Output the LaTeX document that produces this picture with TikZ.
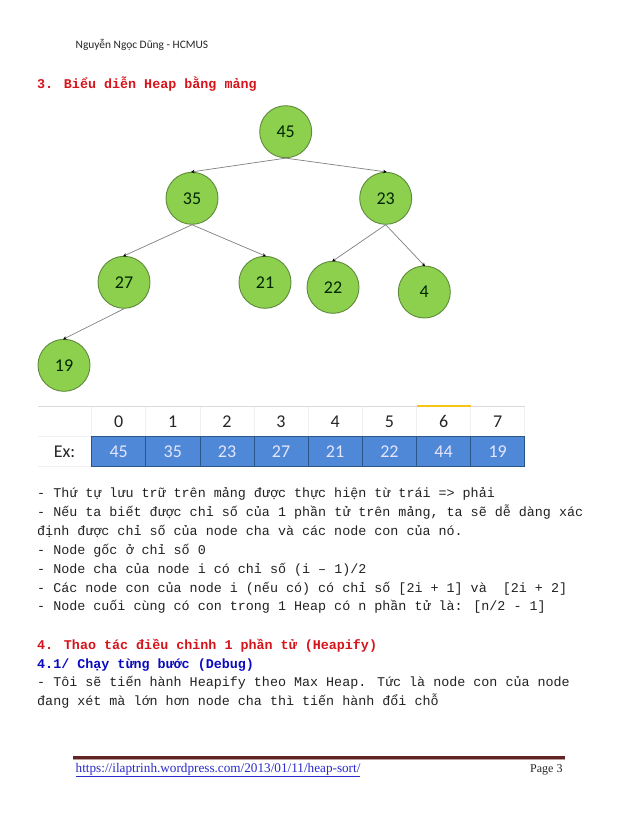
\documentclass[tikz,border=0pt]{standalone}
\usepackage{fontspec}
\setmainfont{Carlito}
\newfontfamily\codefont{Liberation Mono}
\newfontfamily\footfont{Liberation Serif}
\usetikzlibrary{arrows.meta}
\definecolor{heapgreen}{HTML}{8DD04E}
\definecolor{heapedge}{HTML}{5E8A3C}
\definecolor{cellblue}{HTML}{4F88D6}
\definecolor{celledge}{HTML}{2A5788}
\definecolor{gridgray}{HTML}{D9D9DE}
\definecolor{gridfaint}{HTML}{F0F0F2}
\definecolor{hiorange}{HTML}{F5C518}
\definecolor{headred}{HTML}{D5151B}
\definecolor{subblue}{HTML}{0A0AC0}
\definecolor{bodygray}{HTML}{222222}
\definecolor{rulered}{HTML}{622423}
\definecolor{linkblue}{HTML}{2A2ACC}
\tikzset{
  heapnode/.style={circle,draw=heapedge,fill=heapgreen,line width=0.9pt,minimum size=52pt,inner sep=0pt,font=\fontsize{18}{20}\selectfont,text=black!85!green},
  heaplink/.style={draw=black!50,line width=0.7pt,-{Stealth[length=3.5pt,width=3.5pt,color=black]},shorten >=-1pt},
  idxcell/.style={minimum width=54.2pt,minimum height=30.5pt,inner sep=0pt,font=\fontsize{18}{20}\selectfont,text=black!85},
  valcell/.style={draw=celledge,fill=cellblue,line width=0.8pt,minimum width=54.2pt,minimum height=30pt,inner sep=0pt,font=\fontsize{18}{20}\selectfont,text=white!90!blue},
  codeline/.style={anchor=base west,inner sep=0pt,font=\codefont\fontsize{13.38}{16}\selectfont,text=bodygray},
  headred/.style={codeline,font=\codefont\bfseries\fontsize{13.38}{16}\selectfont,text=headred},
  headblue/.style={codeline,font=\codefont\bfseries\fontsize{13.38}{16}\selectfont,text=subblue},
  footer/.style={anchor=base west,inner sep=0pt,font=\footfont\fontsize{12}{14}\selectfont},
  gridline/.style={draw=gridgray,line width=0.9pt},
  gridthin/.style={draw=gridfaint,line width=0.7pt}
}
\begin{document}
\begin{tikzpicture}[x=1pt,y=-1pt]
\useasboundingbox[fill=white] (0,0) rectangle (638,826);
\node[anchor=base west,inner sep=0pt,font=\fontsize{11.4}{14}\selectfont,text=black!85] (hdr) at (75.5,49) {Nguyễn Ngọc Dũng - HCMUS};
\node[headred] (h3) at (37,89) {3. Biểu diễn Heap bằng mảng};
% tree
\node[heapnode] (n45) at (285.7,131.7) {45};
\node[heapnode] (n35) at (192,198.3) {35};
\node[heapnode] (n23) at (385.7,198.3) {23};
\node[heapnode] (n27) at (124,282.3) {27};
\node[heapnode] (n21) at (265,282.3) {21};
\node[heapnode] (n22) at (333,287.3) {22};
\node[heapnode] (n4) at (424.3,292) {4};
\node[heapnode] (n19) at (64,365.3) {19};
\draw[heaplink] (n45.south) -- (n35.north);
\draw[heaplink] (n45.south) -- (n23.north);
\draw[heaplink] (n35.south) -- (n27.north);
\draw[heaplink] (n35.south) -- (n21.north);
\draw[heaplink] (n23.south) -- (n22.north);
\draw[heaplink] (n23.south) -- (n4.north);
\draw[heaplink] (n27.south) -- (n19.north);
% table grid
\foreach \gx in {91.7,145.7,200,254,308,362.3,416.7,470.7,524.7}
  \draw[gridthin] (\gx,406) -- (\gx,436.7);
\draw[gridline] (37.5,406) -- (524.7,406);
\draw[gridthin] (37.5,436.7) -- (91.7,436.7);
\draw[gridthin] (37.5,466.7) -- (91.7,466.7);
% table cells
\node[idxcell] (i0) at (118.7,421.3) {0};
\node[idxcell] (i1) at (172.8,421.3) {1};
\node[idxcell] (i2) at (227,421.3) {2};
\node[idxcell] (i3) at (281,421.3) {3};
\node[idxcell] (i4) at (335.1,421.3) {4};
\node[idxcell] (i5) at (389.4,421.3) {5};
\node[idxcell] (i6) at (443.6,421.3) {6};
\node[idxcell] (i7) at (497.7,421.3) {7};
\node[inner sep=0pt,font=\fontsize{18}{20}\selectfont,text=black!85] (ex) at (64.6,452) {Ex:};
\node[valcell] (v0) at (118.7,451.7) {45};
\node[valcell] (v1) at (172.8,451.7) {35};
\node[valcell] (v2) at (227,451.7) {23};
\node[valcell] (v3) at (281,451.7) {27};
\node[valcell] (v4) at (335.1,451.7) {21};
\node[valcell] (v5) at (389.4,451.7) {22};
\node[valcell] (v6) at (443.6,451.7) {44};
\node[valcell] (v7) at (497.7,451.7) {19};
\fill[hiorange] (416.7,405.2) rectangle (470.7,406.8);
% body
\node[codeline] (l1) at (37,497.5) {- Thứ tự lưu trữ trên mảng được thực hiện từ trái => phải};
\node[codeline] (l2) at (37,516.5) {- Nếu ta biết được chỉ số của 1 phần tử trên mảng, ta sẽ dễ dàng xác};
\node[codeline] (l3) at (37,535) {định được chỉ số của node cha và các node con của nó.};
\node[codeline] (l4) at (37,554) {- Node gốc ở chỉ số 0};
\node[codeline] (l5) at (37,573) {- Node cha của node i có chỉ số (i – 1)/2};
\node[codeline] (l6) at (37,592) {- Các node con của node i (nếu có) có chỉ số [2i + 1] và\ \ [2i + 2]};
\node[codeline] (l7) at (37,610.5) {- Node cuối cùng có con trong 1 Heap có n phần tử là: [n/2 - 1]};
\node[headred] (h4) at (37,649) {4. Thao tác điều chỉnh 1 phần tử (Heapify)};
\node[headblue] (h41) at (37,668) {4.1/ Chạy từng bước (Debug)};
\node[codeline] (l8) at (37,686.5) {- Tôi sẽ tiến hành Heapify theo Max Heap. Tức là node con của node};
\node[codeline] (l9) at (37,705.5) {đang xét mà lớn hơn node cha thì tiến hành đổi chỗ};
% footer
\fill[rulered] (73,755.5) rectangle (565,758.5);
\fill[rulered!45] (73,758.5) rectangle (565,759.5);
\node[footer,text=linkblue,font=\footfont\fontsize{13.2}{14}\selectfont] (url) at (75.5,772) {\underline{https://ilaptrinh.wordpress.com/2013/01/11/heap-sort/}};
\node[footer,text=black!85] (pg) at (530,772) {Page 3};
\end{tikzpicture}
\end{document}
